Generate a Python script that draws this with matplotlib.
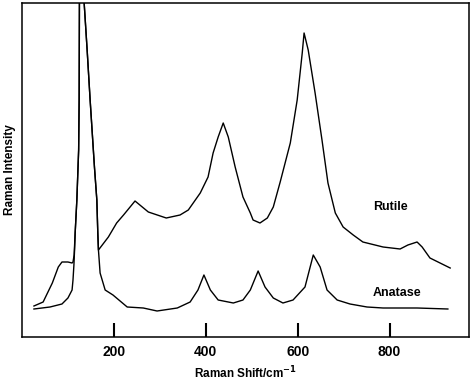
import matplotlib
matplotlib.use("Agg")
import matplotlib.pyplot as plt

plt.rcParams['font.family'] = ['Liberation Sans', 'DejaVu Sans']

# Raman shift (cm^-1) and intensity (arb. units)
rutile_x = [26, 46, 66, 79, 87, 100, 109, 111, 113.5, 115.7, 119.4, 123.3, 124.4, 125, 129.8,
            135.3, 141.8, 148.3, 157.7, 162.9, 165, 166.4,
            188, 206, 221, 246, 275, 314, 344, 362, 388, 405, 416, 427, 438, 449, 464, 481, 497, 503,
            518, 534, 547, 562, 584, 599, 610, 614, 623, 638, 653, 666, 682, 699, 721, 742, 786, 823,
            840, 860, 871, 888, 910, 932]
rutile_y = [31, 35, 54, 70, 75, 75, 74, 75, 82, 104, 137, 187, 237, 334, 370,
            334, 287, 237, 170, 137, 104, 87,
            100, 114, 122, 136, 125, 119, 122, 127, 144, 160, 184, 200, 214, 200, 170, 140, 124, 117,
            114, 119, 130, 155, 194, 237, 284, 304, 287, 244, 197, 154, 124, 110, 102, 95, 90, 88,
            92, 95, 90, 79, 74, 69]

anatase_x = [26, 61, 87, 100, 109, 111, 113, 114.5, 115.7, 119.4, 123.3, 124.4, 125, 129.8,
             135.3, 141.8, 148.3, 157.7, 162.9, 165, 166.4,
             170, 181, 198, 229, 264, 294, 338, 366, 383, 396, 410, 427, 460, 481, 497, 514, 529, 547,
             568, 590, 616, 634, 649, 664, 686, 714, 751, 786, 860, 927]
anatase_y = [28, 30, 33, 39, 47, 57, 72, 88, 104, 137, 187, 237, 334, 370,
             334, 287, 237, 170, 137, 104, 87,
             64, 47, 42, 30, 29, 26, 29, 35, 47, 62, 47, 37, 34, 37, 47, 66, 50, 39,
             34, 37, 50, 82, 70, 47, 37, 33, 30, 29, 29, 28]

xticks = [200, 400, 600, 800]
labels = {"Rutile": (801, 130), "Anatase": (816, 44)}

fig = plt.figure(figsize=(4.74, 3.82), dpi=100)
ax = fig.add_axes([22/474, 1-337/382, (469-22)/474, 334/382])

ax.plot(rutile_x, rutile_y, color='black', lw=1.0)
ax.plot(anatase_x, anatase_y, color='black', lw=1.0)

ax.set_xlim(0, 973)
ax.set_ylim(0, 334)
ax.set_xticks(xticks)
ax.set_xticklabels([str(t) for t in xticks], fontsize=10, fontweight='bold')
ax.set_yticks([])
ax.tick_params(axis='x', direction='in', length=10, width=1.5, pad=6, top=False)
for s in ax.spines.values():
    s.set_linewidth(1.1)

for name, (x, y) in labels.items():
    ax.text(x, y, name, fontsize=9, fontweight='bold', ha='center', va='center')

ax.set_xlabel("Raman Shift/cm$^{\\mathbf{-1}}$", fontsize=8.5, fontweight='bold', labelpad=4)
ax.set_ylabel("Raman Intensity", fontsize=8.5, fontweight='bold', labelpad=4)

fig.savefig("out.png", dpi=100)
